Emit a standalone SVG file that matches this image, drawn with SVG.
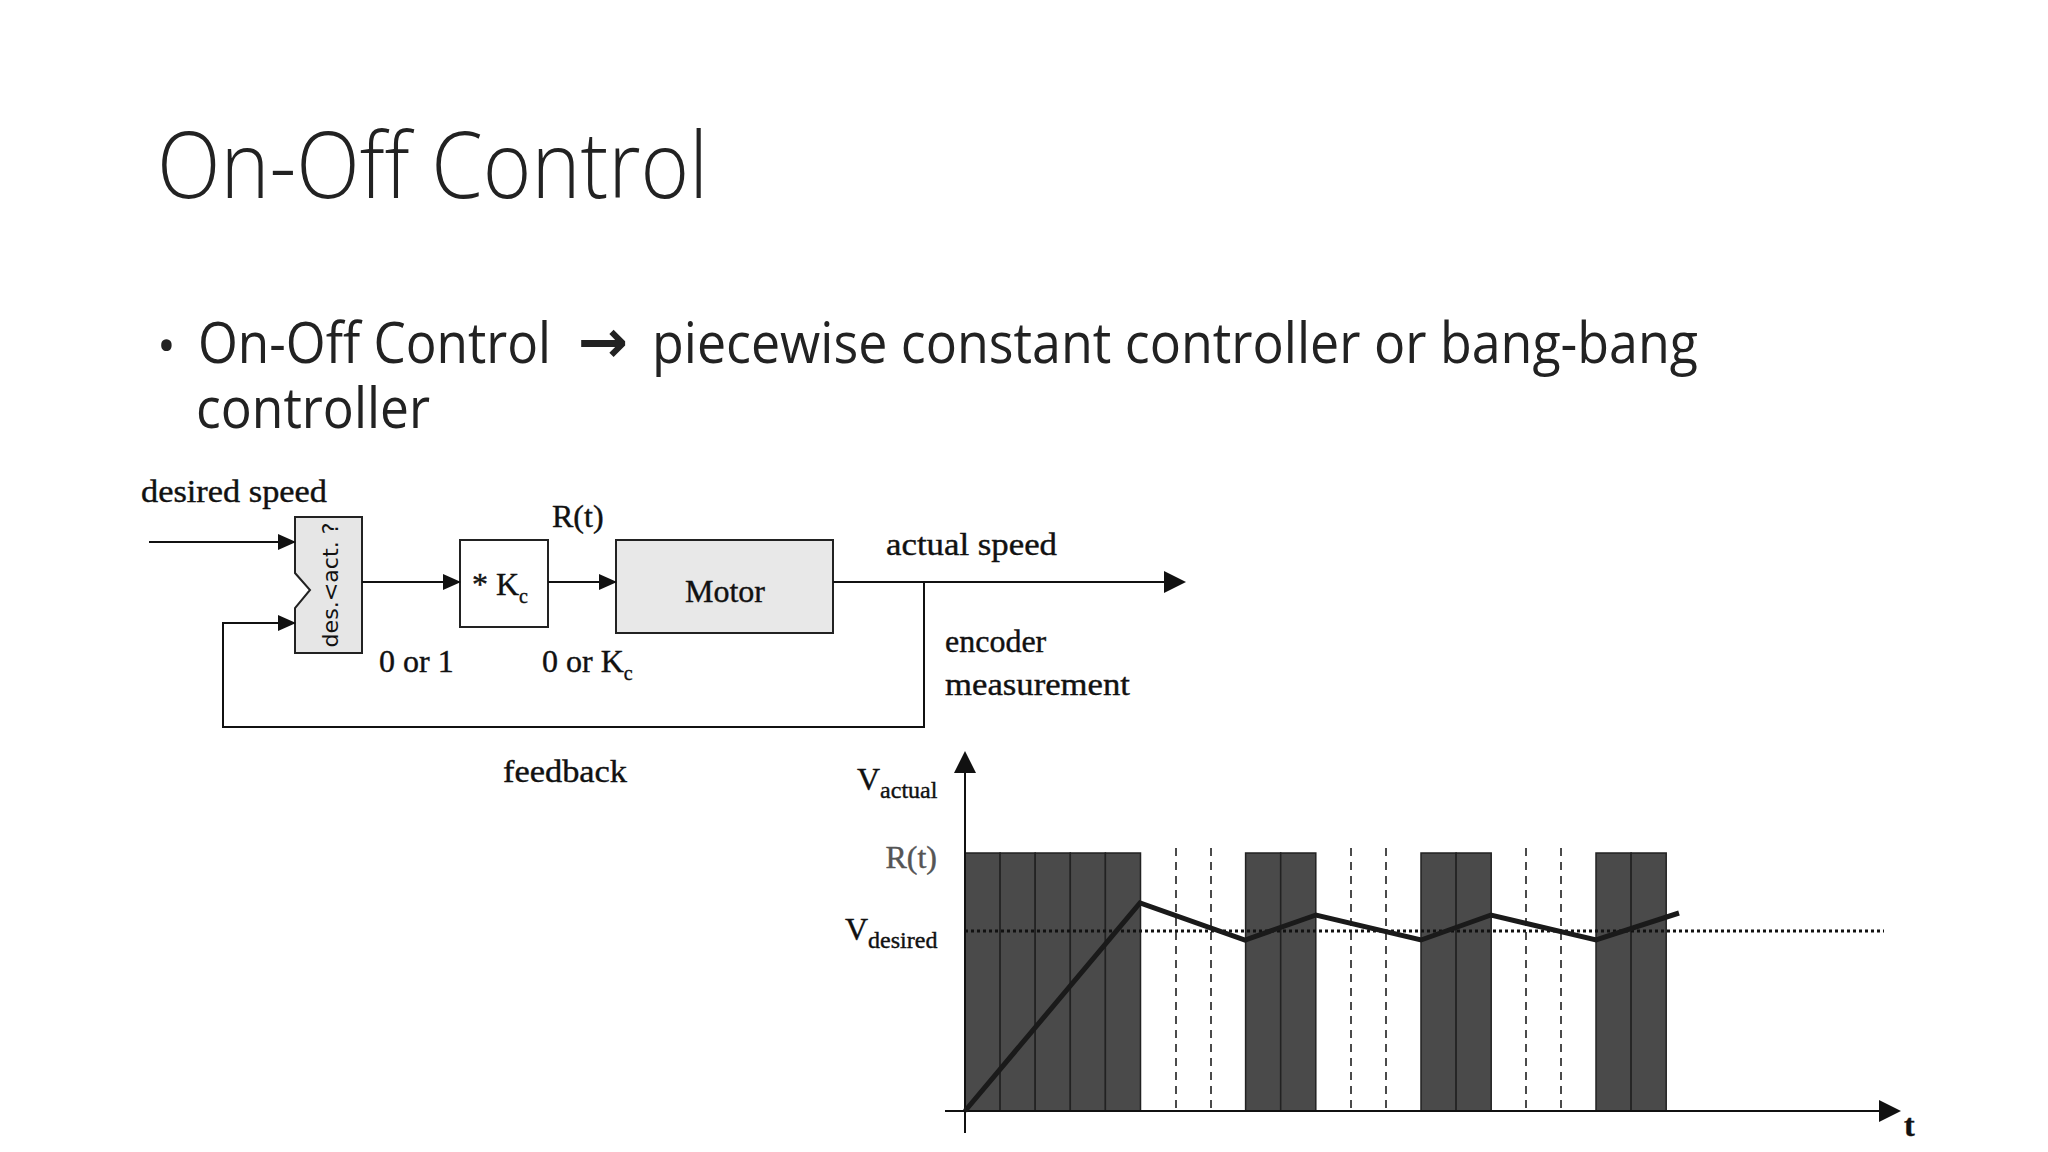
<svg xmlns="http://www.w3.org/2000/svg" width="2048" height="1152" viewBox="0 0 2048 1152">
<style>
.t{font-family:"Open Sans","Noto Sans",sans-serif;fill:#222}
.s{font-family:"Liberation Serif",serif;fill:#111;font-size:32px;stroke:#111;stroke-width:0.4}
.ln{stroke:#111;stroke-width:2;fill:none}
.box{stroke:#222;stroke-width:2}
.bar{fill:#4a4a4a;stroke:#222;stroke-width:1.5}
.dash{stroke:#111;stroke-width:1.5;stroke-dasharray:8,6}
</style>
<defs>
<marker id="ar" markerWidth="18" markerHeight="16" refX="17" refY="8" orient="auto" markerUnits="userSpaceOnUse" viewBox="0 0 18 16"><path d="M0,0L18,8L0,16z" fill="#111"/></marker>
<marker id="ab" markerWidth="22" markerHeight="22" refX="20" refY="11" orient="auto" markerUnits="userSpaceOnUse" viewBox="0 0 22 22"><path d="M0,0L22,11L0,22z" fill="#111"/></marker>
</defs>
<rect width="2048" height="1152" fill="#fff"/>
<text class="t" x="157" y="198" font-size="92" font-weight="300" textLength="551" lengthAdjust="spacingAndGlyphs">On-Off Control</text>
<text class="t" x="157" y="363" font-size="50">•</text>
<text class="t" x="198" y="363" font-size="56" textLength="353" lengthAdjust="spacingAndGlyphs">On-Off Control</text>
<text class="t" x="578" y="362" font-size="60" font-weight="700" style="font-family:'DejaVu Sans',sans-serif">→</text>
<text class="t" x="652" y="363" font-size="56" textLength="1046" lengthAdjust="spacingAndGlyphs">piecewise constant controller or bang-bang</text>
<text class="t" x="196" y="428" font-size="56" textLength="234" lengthAdjust="spacingAndGlyphs">controller</text>

<g id="comparator">
<path class="box" fill="#e6e6e6" d="M295,517H362V653H295V608L310,590L295,573Z"/>
<text transform="translate(338,585) rotate(-90)" text-anchor="middle" font-size="22" fill="#111" style="font-family:'DejaVu Sans',sans-serif" textLength="125" lengthAdjust="spacingAndGlyphs">des.&lt;act. ?</text>
</g>
<g id="gain">
<rect class="box" x="460" y="540" width="88" height="87" fill="#fff"/>
<text class="s" x="472" y="595">* K<tspan font-size="20" dy="8">c</tspan></text>
</g>
<g id="motor">
<rect class="box" x="616" y="540" width="217" height="93" fill="#e8e8e8"/>
<text class="s" x="725" y="602" font-size="42" text-anchor="middle">Motor</text>
</g>
<g id="connectors">
<line class="ln" x1="149" y1="542" x2="295" y2="542" marker-end="url(#ar)"/>
<line class="ln" x1="362" y1="582" x2="460" y2="582" marker-end="url(#ar)"/>
<line class="ln" x1="548" y1="582" x2="616" y2="582" marker-end="url(#ar)"/>
<line class="ln" x1="833" y1="582" x2="1184" y2="582" marker-end="url(#ab)"/>
<polyline class="ln" points="924,582 924,727 223,727 223,623 295,623" marker-end="url(#ar)"/>
</g>
<g id="labels">
<text class="s" x="141" y="502" textLength="186" lengthAdjust="spacingAndGlyphs">desired speed</text>
<text class="s" x="552" y="527">R(t)</text>
<text class="s" x="886" y="555" textLength="171" lengthAdjust="spacingAndGlyphs">actual speed</text>
<text class="s" x="379" y="672">0 or 1</text>
<text class="s" x="542" y="672">0 or K<tspan font-size="20" dy="8">c</tspan></text>
<text class="s" x="945" y="652">encoder</text>
<text class="s" x="945" y="695" textLength="185" lengthAdjust="spacingAndGlyphs">measurement</text>
<text class="s" x="503" y="782" textLength="124" lengthAdjust="spacingAndGlyphs">feedback</text>
</g>

<g id="chart">
<g class="bar">
<rect x="965" y="853" width="35.1" height="258"/><rect x="1000.1" y="853" width="35.1" height="258"/><rect x="1035.2" y="853" width="35.1" height="258"/><rect x="1070.3" y="853" width="35.1" height="258"/><rect x="1105.4" y="853" width="35.1" height="258"/>
<rect x="1245.6" y="853" width="35.1" height="258"/><rect x="1280.7" y="853" width="35.1" height="258"/>
<rect x="1421" y="853" width="35.1" height="258"/><rect x="1456.1" y="853" width="35.1" height="258"/>
<rect x="1596" y="853" width="35.1" height="258"/><rect x="1631.1" y="853" width="35.1" height="258"/>
</g>
<g class="dash">
<line x1="1176" y1="848" x2="1176" y2="1111"/><line x1="1211" y1="848" x2="1211" y2="1111"/>
<line x1="1351" y1="848" x2="1351" y2="1111"/><line x1="1386" y1="848" x2="1386" y2="1111"/>
<line x1="1526" y1="848" x2="1526" y2="1111"/><line x1="1561" y1="848" x2="1561" y2="1111"/>
</g>
<line x1="965" y1="931" x2="1884" y2="931" stroke="#111" stroke-width="3" stroke-dasharray="3,3"/>
<line class="ln" x1="965" y1="1133" x2="965" y2="753" marker-end="url(#ab)"/>
<line class="ln" x1="945" y1="1111" x2="1899" y2="1111" marker-end="url(#ab)"/>
<polyline points="965,1111 1140,903 1245,940 1316,915 1421,940 1491,915 1596,940 1679,913" fill="none" stroke="#1a1a1a" stroke-width="5"/>
<text class="s" x="857" y="790">V<tspan font-size="24" dy="8">actual</tspan></text>
<text class="s" x="937" y="868" text-anchor="end" style="fill:#555;stroke:#555">R(t)</text>
<text class="s" x="845" y="940">V<tspan font-size="24" dy="8">desired</tspan></text>
<text class="s" x="1904" y="1136" font-size="44" font-weight="700">t</text>
</g>
</svg>
